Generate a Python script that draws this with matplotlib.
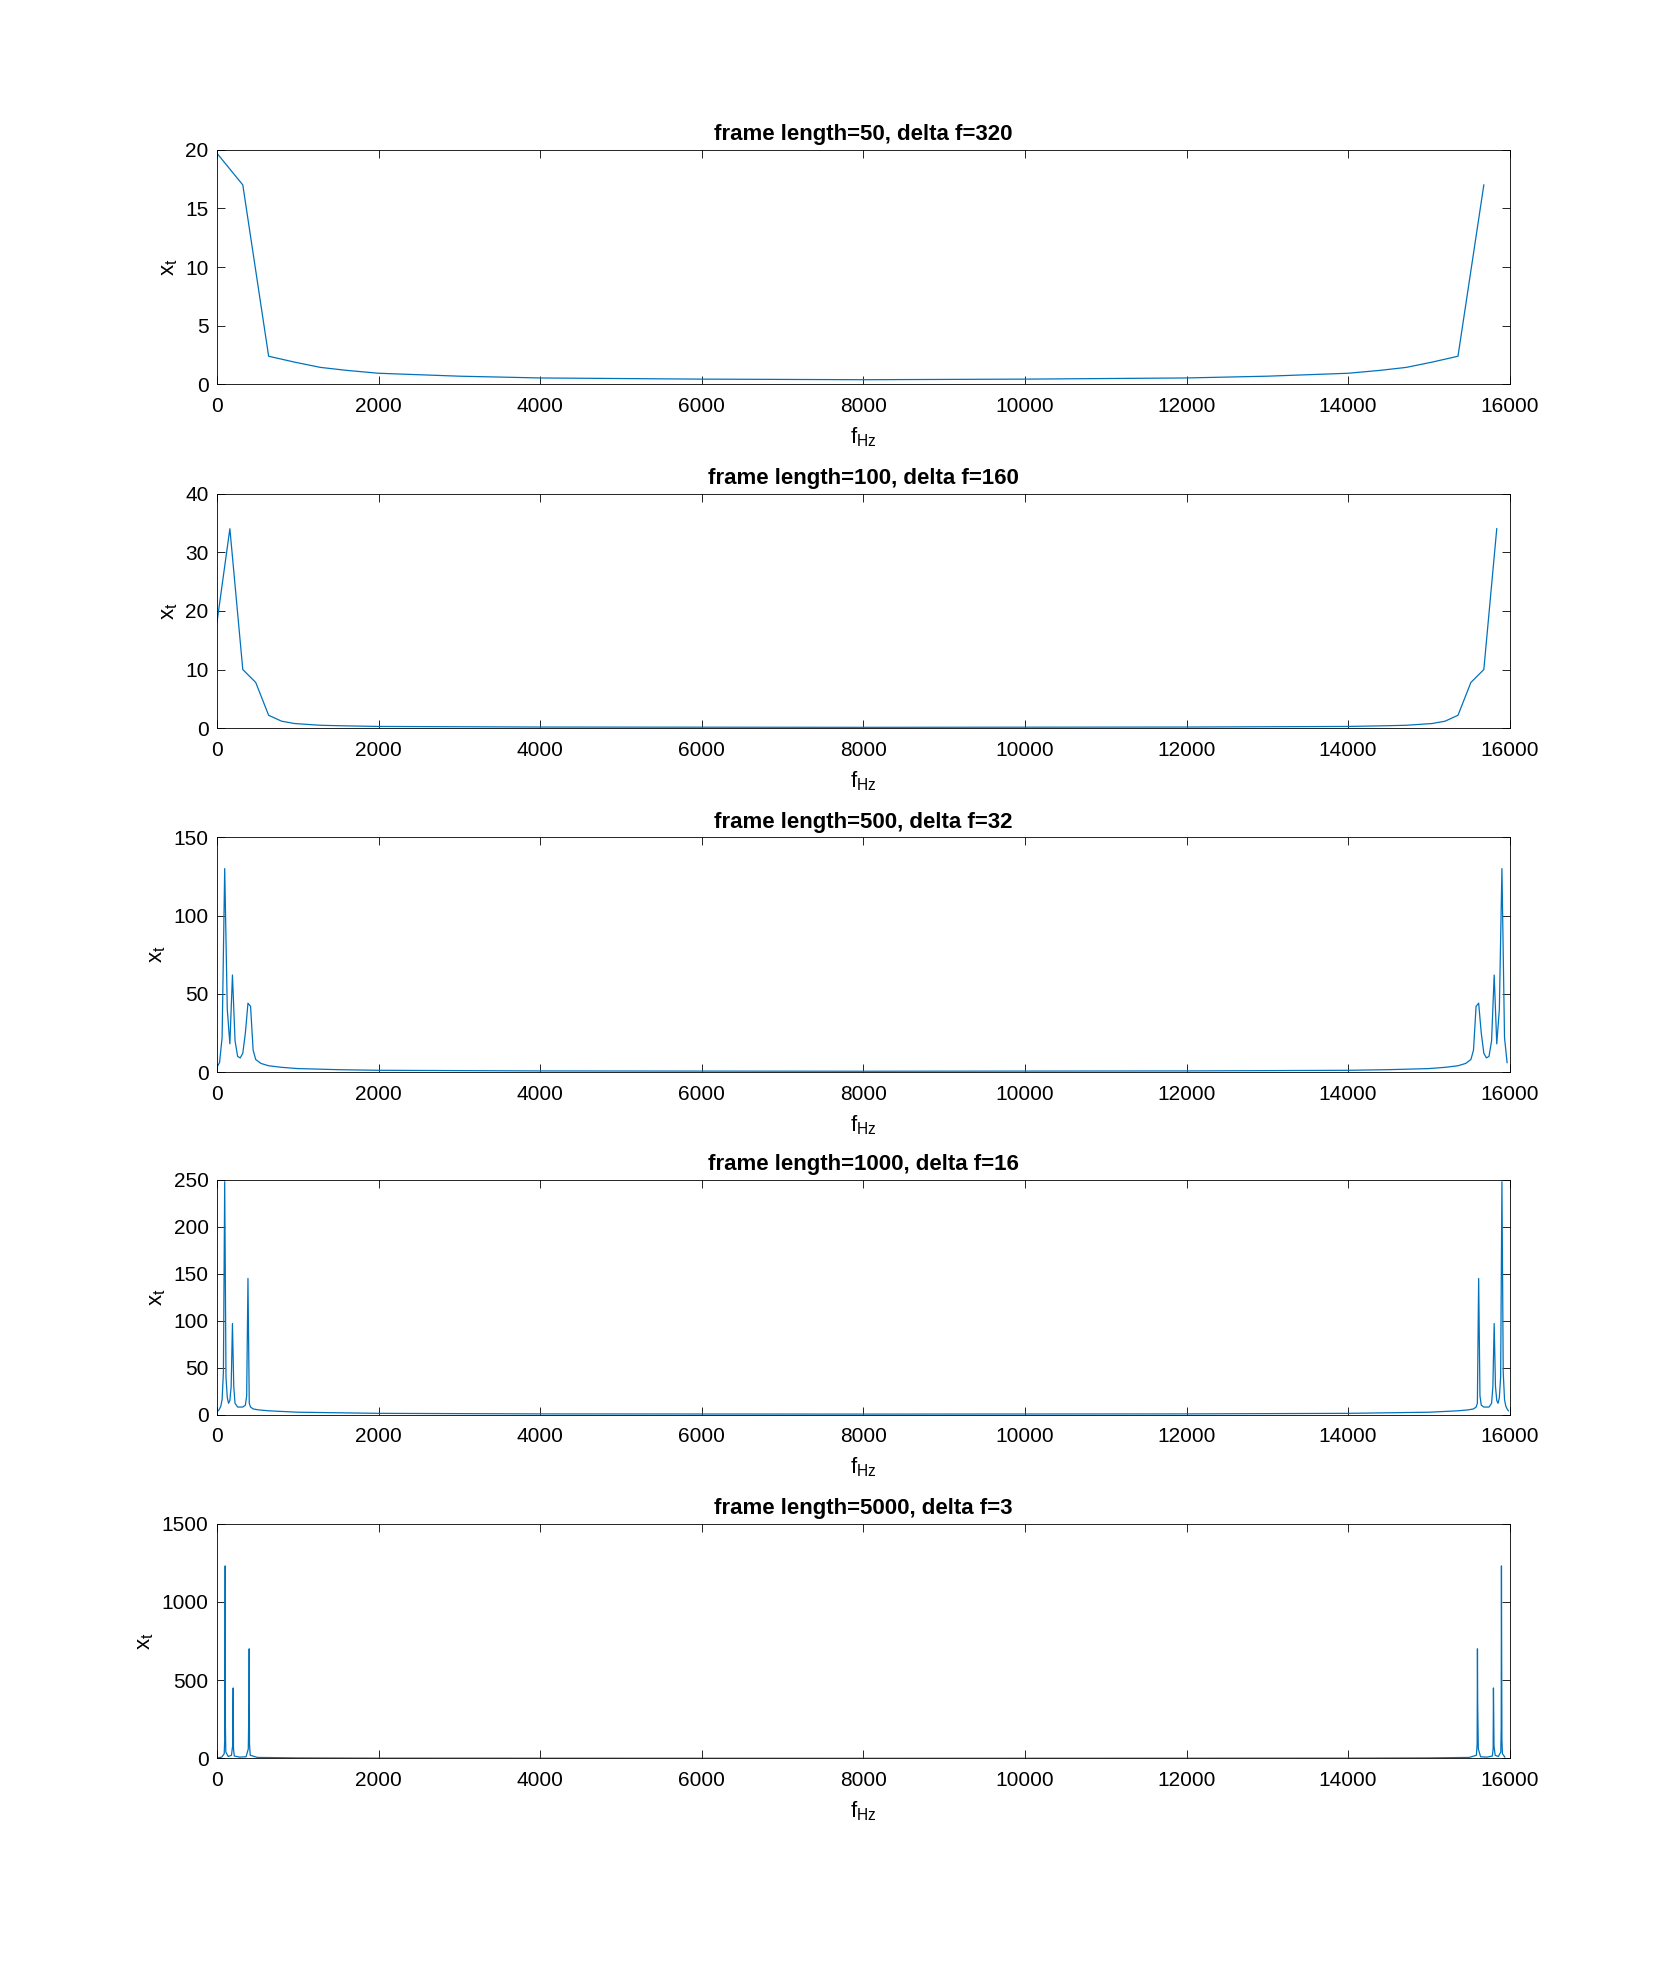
import matplotlib
matplotlib.use("Agg")
import matplotlib.pyplot as plt
import numpy as np

plt.rcParams['font.family'] = ['Liberation Sans', 'DejaVu Sans']
plt.rcParams['mathtext.fontset'] = 'custom'
plt.rcParams['mathtext.rm'] = 'Liberation Sans'
plt.rcParams['mathtext.it'] = 'Liberation Sans'

FS = 16000
titles = ["frame length=50, delta f=320", "frame length=100, delta f=160",
          "frame length=500, delta f=32", "frame length=1000, delta f=16",
          "frame length=5000, delta f=3"]
ymaxes = [20, 40, 150, 250, 1500]
yticks = [[0, 5, 10, 15, 20], [0, 10, 20, 30, 40], [0, 50, 100, 150],
          [0, 50, 100, 150, 200, 250], [0, 500, 1000, 1500]]

# half-spectrum key points (frequency Hz, magnitude)
f1 = [0, 320, 640, 960, 1280, 1600, 2000, 3000, 4000, 6000, 8000]
v1 = [19.7, 17.0, 2.4, 1.9, 1.45, 1.2, 0.95, 0.7, 0.55, 0.45, 0.4]
f2 = [0, 160, 320, 480, 640, 800, 960, 1280, 1600, 2000, 4000, 8000]
v2 = [18, 34, 10, 7.8, 2.2, 1.2, 0.8, 0.5, 0.4, 0.3, 0.2, 0.15]
f3 = [0, 32, 64, 96, 128, 160, 192, 224, 256, 288, 320, 352, 384, 416, 448, 480, 544, 640, 800, 1000, 1500, 2000, 4000, 8000]
v3 = [3, 6, 22, 130, 40, 18, 62, 20, 10, 9, 12, 25, 44, 42, 14, 8, 5.5, 4, 3, 2.2, 1.5, 1.1, 0.7, 0.5]
f4 = [0, 16, 32, 48, 64, 80, 96, 112, 128, 144, 160, 176, 192, 208, 224, 256, 320, 352, 368, 384, 400, 416, 448, 512, 640, 1000, 2000, 4000, 8000]
v4 = [3, 4, 6, 9, 16, 45, 248, 40, 18, 12, 15, 30, 97, 30, 12, 8, 8, 10, 20, 145, 12, 8, 6, 5, 4, 2.5, 1.3, 0.7, 0.5]
f5 = [0, 60, 90, 96, 99, 102, 105, 110, 140, 180, 194, 198, 201, 205, 215, 280, 360, 388, 396, 399, 403, 412, 500, 1000, 2000, 8000]
v5 = [3, 8, 30, 120, 600, 1230, 200, 40, 12, 20, 80, 300, 450, 60, 15, 8, 10, 60, 350, 700, 90, 20, 6, 3, 1.5, 0.5]

data = [(f1, v1), (f2, v2), (f3, v3), (f4, v4), (f5, v5)]

fig = plt.figure(figsize=(16.67, 19.88), dpi=100)
W, H = 1314.0, 1567.0
tops = [118, 389, 660, 930, 1201]
for i, (f, v) in enumerate(data):
    f = np.array(f, float); v = np.array(v, float)
    fm = FS - f[1:][::-1]; vm = v[1:][::-1]
    keep = fm > f[-1]
    x = np.concatenate([f, fm[keep]]); y = np.concatenate([v, vm[keep]])
    left = 171 / W; right = 1190 / W
    top = 1 - tops[i] / H; h = 185 / H
    ax = fig.add_axes([left, top - h, right - left, h])
    ax.plot(x, y, color='#0072BD', lw=0.9)
    ax.set_xlim(0, 16000); ax.set_ylim(0, ymaxes[i])
    ax.set_xticks(range(0, 16001, 2000)); ax.set_yticks(yticks[i])
    ax.tick_params(direction='in', top=True, right=True, labelsize=15, length=6, width=0.6)
    ax.tick_params(axis='x', pad=9)
    ax.tick_params(axis='y', pad=6)
    for s in ax.spines.values():
        s.set_linewidth(0.6)
    ax.set_title(titles[i], fontsize=16, fontweight='bold', pad=7)
    ax.set_xlabel(r'f$_{\mathrm{Hz}}$', fontsize=16, labelpad=7)
    ax.set_ylabel(r'x$_{\mathrm{t}}$', fontsize=16)

fig.savefig("out.png", dpi=100)
